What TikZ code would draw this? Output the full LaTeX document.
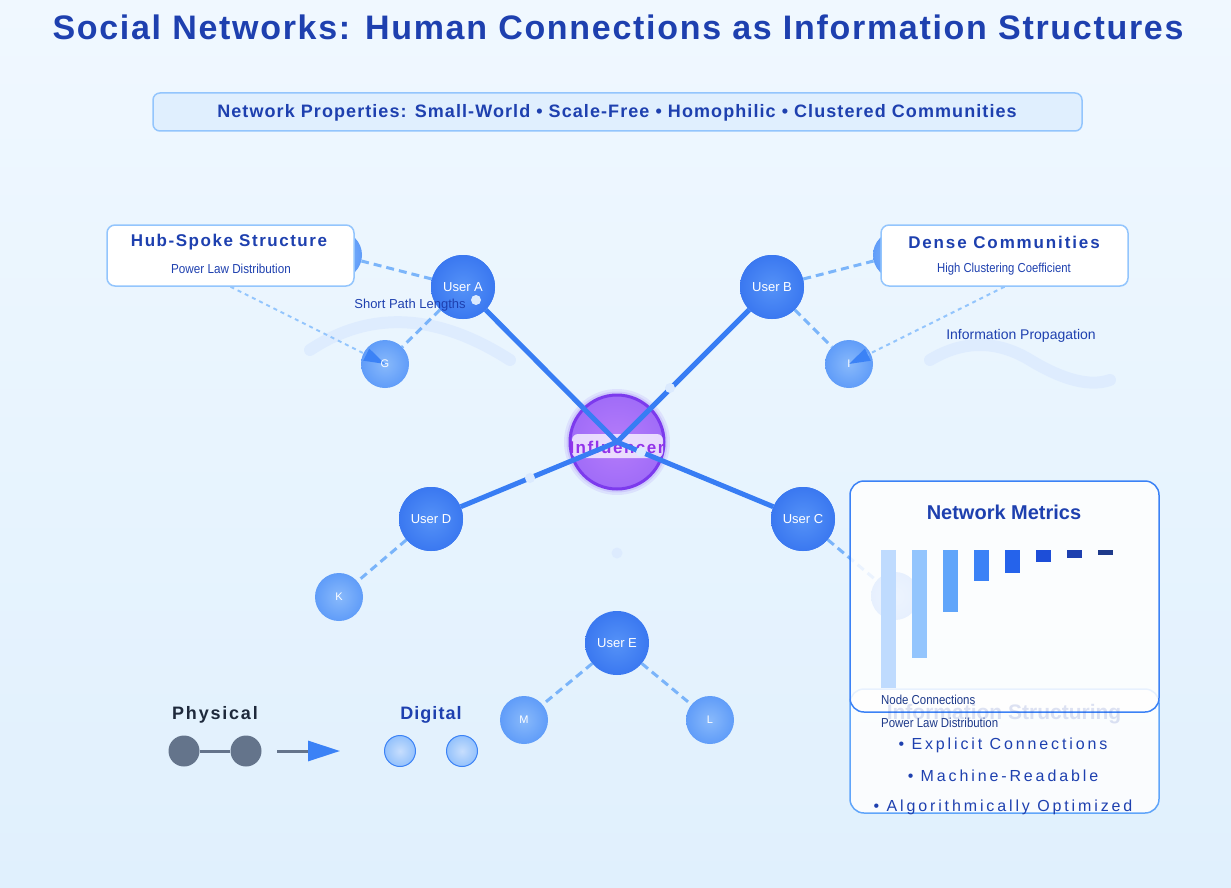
\documentclass[tikz,border=0pt]{standalone}
\usepackage{fontspec}
\setmainfont{Liberation Sans}
\usetikzlibrary{arrows.meta}
\definecolor{titleblue}{HTML}{1E40AF}
\definecolor{navy}{HTML}{1E3A8A}
\definecolor{bgtop}{HTML}{F0F8FF}
\definecolor{bgbot}{HTML}{E0F0FD}
\definecolor{edgeblue}{HTML}{3B82F6}
\definecolor{dashblue}{HTML}{60A5FA}
\definecolor{lightblue}{HTML}{93C5FD}
\definecolor{paleblue}{HTML}{DBEAFE}
\definecolor{bannerfill}{HTML}{E0EFFE}
\definecolor{ublue}{HTML}{2563EB}
\definecolor{ublueL}{HTML}{5592F7}
\definecolor{sblueL}{HTML}{88B9FB}
\definecolor{dblueL}{HTML}{C7DEFD}
\definecolor{purpD}{HTML}{7C3AED}
\definecolor{purpM}{HTML}{8B5CF6}
\definecolor{purpL}{HTML}{B57CFA}
\definecolor{purpT}{HTML}{9333EA}
\definecolor{slate}{HTML}{64748B}
\definecolor{darkslate}{HTML}{1E293B}
\definecolor{bar1}{HTML}{BFDBFE}
\definecolor{bar2}{HTML}{93C5FD}
\definecolor{bar3}{HTML}{60A5FA}
\definecolor{bar4}{HTML}{3B82F6}
\definecolor{bar5}{HTML}{2563EB}
\definecolor{bar6}{HTML}{1D4ED8}
\definecolor{bar7}{HTML}{1E40AF}
\definecolor{bar8}{HTML}{1E3A8A}
\pgfdeclareradialshading{userball}{\pgfpoint{0bp}{0bp}}{color(0bp)=(ublueL); color(45bp)=(ublue); color(100bp)=(ublue)}
\pgfdeclareradialshading{smallball}{\pgfpoint{0bp}{0bp}}{color(0bp)=(sblueL); color(48bp)=(edgeblue); color(100bp)=(edgeblue)}
\pgfdeclareradialshading{digiball}{\pgfpoint{0bp}{0bp}}{color(0bp)=(dblueL); color(50bp)=(dashblue); color(100bp)=(dashblue)}
\pgfdeclareradialshading{hubball}{\pgfpoint{0bp}{0bp}}{color(0bp)=(purpL); color(50bp)=(purpM); color(100bp)=(purpM)}
\newcommand{\fs}[1]{\fontsize{#1}{#1}\selectfont}
\tikzset{
  userstyle/.style={circle, minimum size=64pt, inner sep=0pt, shading=userball, text=white, font=\fs{13}},
  smallstyle/.style={circle, minimum size=48pt, inner sep=0pt, shading=smallball, text=white, font=\fs{11}},
  smalllabel/.style={text=white, font=\fs{11}, inner sep=0pt},
  digistyle/.style={circle, minimum size=31pt, inner sep=0pt, shading=digiball, draw=edgeblue, line width=1pt},
  physstyle/.style={circle, minimum size=31pt, inner sep=0pt, fill=slate},
  mainedge/.style={line width=5pt, color=edgeblue!85!ublue},
  sublink/.style={line width=3pt, color=dashblue, draw opacity=0.8, dash pattern=on 8pt off 5pt},
  hintline/.style={line width=2pt, color=lightblue, dash pattern=on 4pt off 4pt},
  infobox/.style={draw=lightblue, line width=1.5pt, fill=white, rounded corners=8pt},
  flowdot/.style={circle, fill=paleblue, inner sep=0pt, minimum size=10pt},
  band/.style={line width=12pt, color=paleblue, draw opacity=0.75, line cap=round}
}
\begin{document}
\begin{tikzpicture}[x=1pt,y=-1pt]
\useasboundingbox (0,0) rectangle (1231,888);
\shade[top color=bgtop, bottom color=bgbot] (0,0) rectangle (1231,888);

% title
\node[font=\fs{34}\bfseries, text=titleblue] (title) at (618,27) {\addfontfeature{LetterSpace=5}Social Networks: Human Connections as Information Structures};
% banner
\draw[fill=bannerfill, draw=lightblue, line width=1.5pt, rounded corners=7pt] (153,93) rectangle (1082,131);
\node[font=\fs{18}\bfseries, text=titleblue] (banner) at (617,113) {\addfontfeature{LetterSpace=6}Network Properties: Small-World • Scale-Free • Homophilic • Clustered Communities};

% faint background bands
\draw[band] (310,350) .. controls (370,310) and (437,313) .. (510,360);
\draw[band] (930,360) .. controls (963,340) and (997,340) .. (1030,360) .. controls (1063,380) and (1090,387) .. (1110,380);

% node placement
\node[userstyle] (ua) at (463,287) {User A};
\node[userstyle] (ub) at (772,287) {User B};
\node[userstyle] (uc) at (803,519) {User C};
\node[userstyle] (ud) at (431,519) {User D};
\node[userstyle] (ue) at (617,643) {User E};
\node[smallstyle] (g) at (385,364) {};
\node[smallstyle] (i) at (849,364) {};
\node[smallstyle] (k) at (339,597) {K};
\node[smallstyle] (m) at (524,720) {M};
\node[smallstyle] (l) at (710,720) {L};
\node[smallstyle] (h1) at (338,255) {};
\node[smallstyle] (h2) at (897,255) {};
\node[smallstyle] (h3) at (895,596) {};

% secondary dashed links
\draw[sublink] (ua) -- (g);
\draw[sublink] (ua) -- (h1);
\draw[sublink] (ub) -- (i);
\draw[sublink] (ub) -- (h2);
\draw[sublink] (uc) -- (h3);
\draw[sublink] (ud) -- (k);
\draw[sublink] (ue) -- (m);
\draw[sublink] (ue) -- (l);

% influencer
\fill[purpM, opacity=0.12] (617,442) circle (53);
\fill[purpM, opacity=0.18] (617,442) circle (50.5);
\node[circle, minimum size=94pt, inner sep=0pt, shading=hubball, draw=purpD, line width=3pt] (hub) at (617,442) {};
\fill[white, opacity=0.75, rounded corners=6pt] (572,434) rectangle (663,458);
\node[font=\fs{17}\bfseries, text=purpT] (hublabel) at (617,447) {\addfontfeature{LetterSpace=9}Influencer};

% main edges
\draw[mainedge] (hub.center) -- (ua);
\draw[mainedge] (hub.center) -- (ub);
\draw[mainedge] (hub.center) -- (uc);
\draw[mainedge] (hub.center) -- (ud);

% redraw user nodes over edges
\node[userstyle] at (ua) {User A};
\node[userstyle] at (ub) {User B};
\node[userstyle] at (uc) {User C};
\node[userstyle] at (ud) {User D};

% flow dots
\node[flowdot] (f1) at (476,300) {};
\node[flowdot] (f2) at (670,388) {};
\node[flowdot] (f3) at (530,478) {};
\node[flowdot] (f4) at (641,452) {};
\node[flowdot, minimum size=11pt, opacity=0.8] (f5) at (617,553) {};

% annotation boxes
\node[infobox, minimum width=247pt, minimum height=61pt] (hubbox) at (230.5,255.5) {};
\node[font=\fs{17}\bfseries, text=titleblue] (hubt) at (229,242) {\addfontfeature{LetterSpace=9}Hub-Spoke Structure};
\node[font=\fs{13}, text=titleblue] (hubs) at (231,269) {\scalebox{0.9}[1]{Power Law Distribution}};
\node[infobox, minimum width=247pt, minimum height=61pt] (densebox) at (1004.5,255.5) {};
\node[font=\fs{17}\bfseries, text=titleblue] (denset) at (1004,242) {\addfontfeature{LetterSpace=11}Dense Communities};
\node[font=\fs{13}, text=titleblue] (denses) at (1004,269) {\scalebox{0.87}[1]{High Clustering Coefficient}};

\draw[hintline, -{Triangle[length=21pt,width=13pt,color=edgeblue]}] (hubbox.south) -- (g.center);
\draw[hintline, -{Triangle[length=21pt,width=13pt,color=edgeblue]}] (densebox.south) -- (i.center);
\node[smalllabel] (gl) at (g.center) {G};
\node[smalllabel] (il) at (i.center) {I};

\node[font=\fs{13}, text=titleblue] (spl) at (410,305) {Short Path Lengths};
\node[font=\fs{14}, text=titleblue] (ipr) at (1021,336) {Information Propagation};

% info structuring panel
\draw[draw=dashblue, line width=1.5pt, fill=white, fill opacity=0.85, rounded corners=14pt] (850,689) rectangle (1159,813);
% metrics panel
\draw[draw=edgeblue, line width=1.5pt, fill=white, fill opacity=0.85, rounded corners=14pt] (850,481) rectangle (1159,712);
\node[font=\fs{21}\bfseries, text=titleblue, opacity=0.15] (isl) at (1004,714) {Information Structuring};
\node[font=\fs{20}\bfseries, text=titleblue] (mt) at (1004,512) {Network Metrics};
\fill[bar1] (881,550) rectangle (896,688);
\fill[bar2] (912,550) rectangle (927,658);
\fill[bar3] (943,550) rectangle (958,612);
\fill[bar4] (974,550) rectangle (989,581);
\fill[bar5] (1005,550) rectangle (1020,573);
\fill[bar6] (1036,550) rectangle (1051,562);
\fill[bar7] (1067,550) rectangle (1082,558);
\fill[bar8] (1098,550) rectangle (1113,555);
\node[font=\fs{13}, text=navy, anchor=west, inner sep=0pt] (nc) at (881,700) {\scalebox{0.88}[1]{Node Connections}};
\node[font=\fs{13}, text=navy, anchor=west, inner sep=0pt] (pld) at (881,723) {\scalebox{0.88}[1]{Power Law Distribution}};
\node[font=\fs{16}, text=titleblue] (b1) at (1003,745) {\addfontfeature{LetterSpace=18}• Explicit Connections};
\node[font=\fs{16}, text=titleblue] (b2) at (1003,776) {\addfontfeature{LetterSpace=18}• Machine-Readable};
\node[font=\fs{16}, text=titleblue] (b3) at (1003,807) {\addfontfeature{LetterSpace=18}• Algorithmically Optimized};

% legend
\node[font=\fs{18}\bfseries, text=darkslate] (phys) at (215,715) {\addfontfeature{LetterSpace=10}Physical};
\node[physstyle] (p1) at (184,751) {};
\node[physstyle] (p2) at (246,751) {};
\draw[slate, line width=3pt] (p1) -- (p2);
\coordinate (a1) at (277,751);
\coordinate (a2) at (340,751);
\draw[slate, line width=3pt, -{Triangle[length=32pt,width=20pt,color=edgeblue]}] (a1) -- (a2);
\node[font=\fs{18}\bfseries, text=titleblue] (digi) at (431,715) {\addfontfeature{LetterSpace=6}Digital};
\node[digistyle] (d1) at (400,751) {};
\node[digistyle] (d2) at (462,751) {};
\end{tikzpicture}
\end{document}
